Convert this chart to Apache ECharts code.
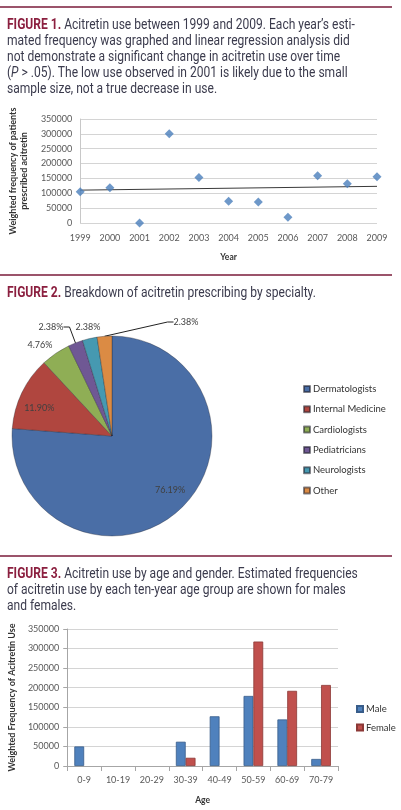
<!DOCTYPE html>
<html>
<head>
<meta charset="utf-8">
<script src="https://cdn.jsdelivr.net/npm/echarts@6/dist/echarts.min.js"></script>
<style>
  html, body { margin: 0; padding: 0; background: #fff; }
  #main { width: 401px; height: 810px; }
</style>
</head>
<body>
<div id="main"></div>
<script>
// figure 1 - yearly use
const years = [1999, 2000, 2001, 2002, 2003, 2004, 2005, 2006, 2007, 2008, 2009];
const yearlyUse = [105000, 119000, 0, 300000, 153000, 73000, 71000, 19000, 159000, 132000, 156000];
// figure 2 - specialty breakdown
const specialties = ['Dermatologists', 'Internal Medicine', 'Cardiologists', 'Pediatricians', 'Neurologists', 'Other'];
const specialtyCounts = [32, 5, 2, 1, 1, 1];
// figure 3 - age and gender
const ageGroups = ['0-9', '10-19', '20-29', '30-39', '40-49', '50-59', '60-69', '70-79'];
const maleUse = [50000, 0, 0, 62000, 127000, 179000, 119000, 18000];
const femaleUse = [0, 0, 0, 21000, 0, 318000, 192000, 207000];

const capFont = 'Roboto, "Liberation Sans", sans-serif';
const chartFont = 'Lato, "Open Sans", sans-serif';
const capColor = '#3b3b4d';
const figColor = '#8b1f3f';

// least squares trend line for figure 1
const n = years.length;
const mx = years.reduce((a, b) => a + b, 0) / n;
const my = yearlyUse.reduce((a, b) => a + b, 0) / n;
let sxy = 0, sxx = 0;
years.forEach((x, i) => { sxy += (x - mx) * (yearlyUse[i] - my); sxx += (x - mx) * (x - mx); });
const slope = sxy / sxx;
const trend = [years[0], years[n - 1]].map(x => [x, my + slope * (x - mx)]);

const specTotal = specialtyCounts.reduce((a, b) => a + b, 0);
const pieColors = ['#4a6ea6', '#b0463f', '#8fae55', '#6f5894', '#4699b1', '#db8b44'];

// caption drawn as condensed text (font squeezed horizontally)
function caption(label, lines, top) {
  const body = lines.map(l => l.split(/(\{i\|[^}]*\})/)
    .map(s => (s.startsWith('{i|') ? s : (s ? '{t|' + s + '}' : '')))
    .join('')).join('\n');
  const st = { fontFamily: capFont, fontSize: 14, lineHeight: 16.2 };
  return {
    type: 'text',
    x: 7,
    y: top,
    scaleX: 0.86,
    style: {
      text: '{f|' + label + '} ' + body,
      font: '14px ' + capFont,
      fill: capColor,
      rich: {
        f: Object.assign({ fontWeight: 'bold', fill: figColor, color: figColor }, st),
        t: Object.assign({ fontWeight: 'normal', fill: capColor, color: capColor }, st),
        i: Object.assign({ fontWeight: 'normal', fontStyle: 'italic', fill: capColor, color: capColor }, st)
      }
    }
  };
}

function sepLine(y) {
  return { type: 'line', shape: { x1: 0, y1: y, x2: 392, y2: y }, style: { stroke: '#7a1b3a', lineWidth: 1.5 } };
}

// zero bars get no outline so nothing shows at the baseline
function barData(arr) {
  return arr.map(v => (v === 0 ? { value: 0, itemStyle: { borderWidth: 0 } } : v));
}

const myChart = echarts.init(document.getElementById('main'));

const option = {
  animation: false,
  backgroundColor: '#fff',
  textStyle: { fontFamily: chartFont },
  graphic: [
    sepLine(7),
    sepLine(275),
    sepLine(556),
    caption('FIGURE 1.', [
      'Acitretin use between 1999 and 2009. Each year\u2019s esti-',
      'mated frequency was graphed and linear regression analysis did',
      'not demonstrate a significant change in acitretin use over time',
      '({i|P} > .05). The low use observed in 2001 is likely due to the small',
      'sample size, not a true decrease in use.'
    ], 17),
    caption('FIGURE 2.', ['Breakdown of acitretin prescribing by specialty.'], 285),
    caption('FIGURE 3.', [
      'Acitretin use by age and gender. Estimated frequencies',
      'of acitretin use by each ten-year age group are shown for males',
      'and females.'
    ], 566)
  ],
  legend: [
    {
      data: specialties,
      orient: 'vertical',
      left: 298,
      top: 379,
      itemWidth: 6,
      itemHeight: 6,
      itemGap: 10.3,
      icon: 'rect',
      textStyle: { fontSize: 9.5, color: '#333', fontFamily: chartFont, padding: [0, 0, 0, -2] }
    },
    {
      data: ['Male', 'Female'],
      orient: 'vertical',
      left: 351,
      top: 699,
      itemWidth: 6,
      itemHeight: 6,
      itemGap: 8.5,
      icon: 'rect',
      textStyle: { fontSize: 9.5, color: '#333', fontFamily: chartFont, padding: [0, 0, 0, -2] }
    }
  ],
  grid: [
    { left: 72, right: 24, top: 119, bottom: 587 },
    { left: 60, right: 63, top: 629, bottom: 44 }
  ],
  xAxis: [
    {
      gridIndex: 0,
      type: 'value',
      min: 1999,
      max: 2009,
      interval: 1,
      name: 'Year',
      nameLocation: 'middle',
      nameGap: 30,
      nameTextStyle: { fontSize: 8.5, fontWeight: 'bold', color: '#333' },
      axisLine: { show: false },
      axisTick: { show: false },
      splitLine: { show: false },
      axisLabel: { fontSize: 9, color: '#595959', margin: 11, formatter: v => String(v) }
    },
    {
      gridIndex: 1,
      type: 'category',
      data: ageGroups,
      name: 'Age',
      nameLocation: 'middle',
      nameGap: 30,
      nameTextStyle: { fontSize: 8.5, fontWeight: 'bold', color: '#333' },
      axisLine: { lineStyle: { color: '#a6a6a6' } },
      axisTick: { show: true, length: 5, lineStyle: { color: '#a6a6a6' } },
      axisLabel: { fontSize: 9, color: '#595959', margin: 10 }
    }
  ],
  yAxis: [
    {
      gridIndex: 0,
      type: 'value',
      min: 0,
      max: 350000,
      interval: 50000,
      name: 'Weighted frequency of patients\nprescribed acitretin',
      nameLocation: 'middle',
      nameGap: 34,
      nameTextStyle: { fontSize: 9, fontWeight: 'bold', color: '#333', lineHeight: 11 },
      axisLine: { show: true, lineStyle: { color: '#c8c8c8' } },
      axisTick: { show: false },
      splitLine: { lineStyle: { color: '#d4d4d4' } },
      axisLabel: { fontSize: 9, color: '#595959', margin: 8, formatter: v => String(v) }
    },
    {
      gridIndex: 1,
      type: 'value',
      min: 0,
      max: 350000,
      interval: 50000,
      name: 'Weighted Frequency of Acitretin Use',
      nameLocation: 'middle',
      nameGap: 43,
      nameTextStyle: { fontSize: 9, fontWeight: 'bold', color: '#333' },
      axisLine: { show: true, lineStyle: { color: '#a6a6a6' } },
      axisTick: { show: true, length: 4, lineStyle: { color: '#a6a6a6' } },
      splitLine: { lineStyle: { color: '#d4d4d4' } },
      axisLabel: { fontSize: 9, color: '#595959', margin: 8, formatter: v => String(v) }
    }
  ],
  series: [
    {
      name: 'Use',
      type: 'scatter',
      xAxisIndex: 0,
      yAxisIndex: 0,
      symbol: 'diamond',
      symbolSize: 9,
      itemStyle: { color: '#4a7ebb' },
      data: years.map((y, i) => [y, yearlyUse[i]]),
      z: 3
    },
    {
      name: 'Trend',
      type: 'line',
      xAxisIndex: 0,
      yAxisIndex: 0,
      symbol: 'none',
      lineStyle: { color: '#3a3a3a', width: 1 },
      data: trend,
      z: 2
    },
    {
      name: 'Specialty',
      type: 'pie',
      center: [112, 436],
      radius: 100,
      startAngle: 90,
      clockwise: true,
      color: pieColors,
      itemStyle: { borderColor: 'rgba(30,30,40,0.55)', borderWidth: 0.6 },
      label: {
        fontSize: 9,
        color: '#404040',
        overflow: 'none',
        formatter: p => (p.value / specTotal * 100).toFixed(2) + '%'
      },
      labelLine: { lineStyle: { color: '#222', width: 1 }, length: 6, length2: 6 },
      labelLayout: p => {
        if (p.dataIndex === 0) return { dx: 22, dy: 15 };
        if (p.dataIndex === 1) return { dx: -25, dy: -5 };
        if (p.dataIndex === 2) return { x: 40, y: 345, align: 'center', verticalAlign: 'middle' };
        if (p.dataIndex === 3) return { x: 51, y: 327, align: 'center', verticalAlign: 'middle' };
        if (p.dataIndex === 4) return { x: 88, y: 327, align: 'center', verticalAlign: 'middle' };
        return { x: 186, y: 322, align: 'center', verticalAlign: 'middle' };
      },
      data: specialties.map((name, i) => ({
        name: name,
        value: specialtyCounts[i],
        label: { position: i < 2 ? 'inside' : 'outside' },
        labelLine: { show: i === 3 || i === 5 }
      }))
    },
    {
      name: 'Male',
      type: 'bar',
      xAxisIndex: 1,
      yAxisIndex: 1,
      barGap: '0%',
      barCategoryGap: '42%',
      itemStyle: { color: '#4f81bd', borderColor: '#385d8a', borderWidth: 0.8 },
      data: barData(maleUse)
    },
    {
      name: 'Female',
      type: 'bar',
      xAxisIndex: 1,
      yAxisIndex: 1,
      itemStyle: { color: '#c0504d', borderColor: '#8c3836', borderWidth: 0.8 },
      data: barData(femaleUse)
    }
  ]
};
myChart.setOption(option);
</script>
</body>
</html>
